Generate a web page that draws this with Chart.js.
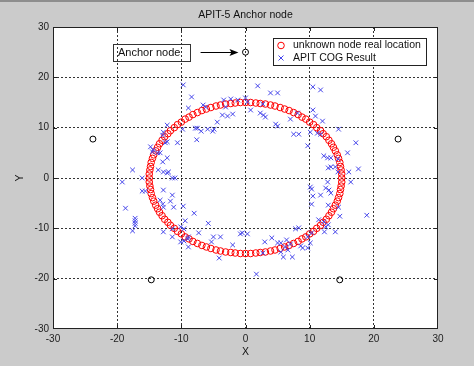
<!DOCTYPE html>
<html>
<head>
<meta charset="utf-8">
<script src="https://cdn.jsdelivr.net/npm/chart.js@4.4.1/dist/chart.umd.min.js"></script>
<style>
  html, body { margin: 0; padding: 0; background: #cbcbcb; }
  #wrap { width: 474px; height: 366px; }
</style>
</head>
<body>
<div id="wrap"><canvas id="apit" width="474" height="366"></canvas></div>
<script>
'use strict';

// unknown node real locations (red circles)
var realX = [15.0,15.0,14.9,14.8,14.7,14.5,14.3,14.0,13.7,13.4,13.0,12.6,12.1,11.7,11.1,10.6,10.0,9.4,8.8,8.2,7.5,6.8,6.1,5.4,4.6,3.9,3.1,2.3,1.6,0.8,
	0.0,-0.8,-1.6,-2.3,-3.1,-3.9,-4.6,-5.4,-6.1,-6.8,-7.5,-8.2,-8.8,-9.4,-10.0,-10.6,-11.1,-11.7,-12.1,-12.6,-13.0,-13.4,-13.7,-14.0,-14.3,-14.5,-14.7,-14.8,-14.9,-15.0,
	-15.0,-15.0,-14.9,-14.8,-14.7,-14.5,-14.3,-14.0,-13.7,-13.4,-13.0,-12.6,-12.1,-11.7,-11.1,-10.6,-10.0,-9.4,-8.8,-8.2,-7.5,-6.8,-6.1,-5.4,-4.6,-3.9,-3.1,-2.3,-1.6,-0.8,
	0.0,0.8,1.6,2.3,3.1,3.9,4.6,5.4,6.1,6.8,7.5,8.2,8.8,9.4,10.0,10.6,11.1,11.7,12.1,12.6,13.0,13.4,13.7,14.0,14.3,14.5,14.7,14.8,14.9,15.0];
var realY = [0.0,0.8,1.6,2.3,3.1,3.9,4.6,5.4,6.1,6.8,7.5,8.2,8.8,9.4,10.0,10.6,11.1,11.7,12.1,12.6,13.0,13.4,13.7,14.0,14.3,14.5,14.7,14.8,14.9,15.0,
	15.0,15.0,14.9,14.8,14.7,14.5,14.3,14.0,13.7,13.4,13.0,12.6,12.1,11.7,11.1,10.6,10.0,9.4,8.8,8.2,7.5,6.8,6.1,5.4,4.6,3.9,3.1,2.3,1.6,0.8,
	0.0,-0.8,-1.6,-2.3,-3.1,-3.9,-4.6,-5.4,-6.1,-6.8,-7.5,-8.2,-8.8,-9.4,-10.0,-10.6,-11.1,-11.7,-12.1,-12.6,-13.0,-13.4,-13.7,-14.0,-14.3,-14.5,-14.7,-14.8,-14.9,-15.0,
	-15.0,-15.0,-14.9,-14.8,-14.7,-14.5,-14.3,-14.0,-13.7,-13.4,-13.0,-12.6,-12.1,-11.7,-11.1,-10.6,-10.0,-9.4,-8.8,-8.2,-7.5,-6.8,-6.1,-5.4,-4.6,-3.9,-3.1,-2.3,-1.6,-0.8];

// APIT COG estimates (blue crosses)
var cogX = [-9.7,-8.4,-4.4,-3.6,-2.8,-2.0,-7.8,-7.5,-6.9,-5.9,-5.1,-4.9,-7.6,-9.8,-10.6,-12.2,-12.8,-12.9,-12.2,-12.5,
	-14.8,-14.4,-14.5,-13.7,-13.3,-12.9,-12.2,-17.6,-13.6,-12.8,-12.0,-12.2,-11.4,-11.0,-16.1,-19.2,
	-16.1,-15.6,-18.7,-13.3,-12.9,-11.4,-11.7,-11.2,-12.8,-12.8,-17.2,-17.2,-17.2,-17.2,-17.6,-12.8,-11.4,-11.4,
	-9.7,-8.0,-9.4,-5.8,-10.1,-9.6,-7.3,-10.1,-9.6,-8.9,-9.0,-8.9,-5.0,-3.9,-5.3,-2.0,-0.8,-4.1,
	1.9,3.9,5.0,10.5,11.7,0.0,0.8,2.3,2.8,3.1,4.7,5.0,7.0,8.1,7.5,8.3,10.5,10.9,12.0,10.1,11.2,11.7,14.5,9.7,17.2,
	12.2,12.8,13.3,14.4,15.9,13.3,12.9,14.4,17.6,16.4,12.8,10.1,10.3,12.5,13.0,13.3,10.5,11.7,14.0,16.1,
	10.3,12.9,14.7,18.9,11.4,12.2,12.9,12.5,12.3,14.0,8.3,7.8,10.3,9.7,-0.5,0.3,4.1,3.0,5.0,5.5,6.4,6.2,7.0,
	8.6,8.9,10.1,9.7,2.7,5.9,7.3,6.6,5.5,1.7,14.5,
	-8.9,-6.6,-3.4,-2.3,-1.2,-6.2,-3.1,0.3,2.7];
var cogY = [18.5,16.1,11.1,12.5,12.3,12.7,9.9,9.9,9.3,9.7,9.3,9.7,7.6,9.7,7.0,10.5,9.1,8.5,7.2,7.0,
	6.2,5.6,5.2,5.0,5.0,3.2,4.0,1.6,1.6,1.2,1.2,1.0,0.0,0.0,0.0,-0.8,
	-2.6,-2.6,-6.0,-4.4,-5.2,-3.4,-4.6,-5.8,-5.8,-2.4,-8.0,-8.5,-9.0,-9.5,-10.5,-10.7,-10.1,-11.7,
	-5.6,-7.0,-8.5,-9.0,-9.7,-10.1,-10.9,-12.7,-12.5,-11.7,-12.1,-13.7,-11.7,-11.7,-12.7,-13.3,-11.1,-15.9,
	18.3,16.9,16.9,18.1,17.5,15.9,13.5,12.9,12.5,12.1,10.7,10.3,11.7,12.9,8.7,8.7,13.5,12.3,11.3,9.1,8.9,8.7,9.7,6.4,7.0,
	4.4,4.0,4.0,3.8,5.0,2.2,2.0,1.2,1.8,-0.8,-0.8,-1.8,-2.2,-2.0,-2.4,-3.0,-3.6,-3.4,2.2,1.2,
	-5.2,-5.4,-7.6,-7.4,-8.3,-8.7,-9.3,-9.7,-10.7,-10.7,-9.9,-10.1,-10.9,-11.7,-10.9,-11.1,-11.9,-12.7,-12.9,-12.9,-12.3,-13.7,-13.1,
	-13.5,-13.9,-12.9,-13.9,-14.9,-15.7,-15.7,-14.3,-14.7,-19.1,-5.8,
	13.9,14.5,15.5,15.7,15.5,14.1,14.1,15.1,14.7];

// anchor nodes (black circles)
var anchorX = [0, 23.78, 14.69, -14.69, -23.78];
var anchorY = [25, 7.73, -20.23, -20.23, 7.73];

var axisMin = -30, axisMax = 30, tickStep = 10;
var titleText = 'APIT-5 Anchor node';
var legendLabels = ['unknown node real location', 'APIT COG Result'];

var FONT = "'Liberation Sans', Arial, Helvetica, sans-serif";

var toPoints = function(xs, ys) {
	return xs.map(function(x, i) { return {x: x, y: ys[i]}; });
};

var drawCross = function(ctx, x, y, r) {
	ctx.beginPath();
	ctx.moveTo(x - r, y - r); ctx.lineTo(x + r, y + r);
	ctx.moveTo(x - r, y + r); ctx.lineTo(x + r, y - r);
	ctx.stroke();
};

var matlabLook = {
	id: 'matlabLook',
	beforeDraw: function(chart) {
		var ctx = chart.ctx, a = chart.chartArea;
		ctx.save();
		ctx.fillStyle = '#cbcbcb';
		ctx.fillRect(0, 0, chart.width, chart.height);
		ctx.fillStyle = '#8e8e8e';
		ctx.fillRect(0, 0, chart.width, 2);
		ctx.fillStyle = '#ffffff';
		ctx.fillRect(a.left, a.top, a.right - a.left, a.bottom - a.top);
		ctx.restore();
	},
	afterDraw: function(chart) {
		var ctx = chart.ctx, a = chart.chartArea,
			sx = chart.scales.x, sy = chart.scales.y;
		ctx.save();

		// frame and inward tick marks
		ctx.strokeStyle = '#222';
		ctx.lineWidth = 1;
		ctx.strokeRect(a.left + 0.5, a.top + 0.5, a.right - a.left - 1, a.bottom - a.top - 1);
		ctx.beginPath();
		for (var v = axisMin + tickStep; v < axisMax; v += tickStep) {
			var px = Math.round(sx.getPixelForValue(v)) + 0.5,
				py = Math.round(sy.getPixelForValue(v)) + 0.5;
			ctx.moveTo(px, a.bottom); ctx.lineTo(px, a.bottom - 4);
			ctx.moveTo(px, a.top); ctx.lineTo(px, a.top + 4);
			ctx.moveTo(a.left, py); ctx.lineTo(a.left + 4, py);
			ctx.moveTo(a.right, py); ctx.lineTo(a.right - 4, py);
		}
		ctx.stroke();

		// title and axis labels
		ctx.fillStyle = '#111';
		ctx.textAlign = 'center';
		ctx.textBaseline = 'middle';
		ctx.font = '10.5px ' + FONT;
		ctx.fillText(titleText, (a.left + a.right) / 2, 15);
		ctx.fillText('X', (a.left + a.right) / 2, 352);
		ctx.save();
		ctx.translate(20, (a.top + a.bottom) / 2);
		ctx.rotate(-Math.PI / 2);
		ctx.fillText('Y', 0, 0);
		ctx.restore();

		// "Anchor node" annotation with arrow
		var bx1 = 113, bx2 = 190, by1 = 44, by2 = 61;
		ctx.strokeStyle = '#333';
		ctx.strokeRect(bx1 + 0.5, by1 + 0.5, bx2 - bx1, by2 - by1);
		ctx.textAlign = 'left';
		ctx.font = '11px ' + FONT;
		ctx.fillStyle = '#111';
		ctx.fillText('Anchor node', 118, 53);
		var tipX = sx.getPixelForValue(-1.1), ay = Math.round(sy.getPixelForValue(25)) + 0.5;
		ctx.strokeStyle = '#000';
		ctx.beginPath();
		ctx.moveTo(sx.getPixelForValue(-7.0), ay);
		ctx.lineTo(tipX - 6, ay);
		ctx.stroke();
		ctx.fillStyle = '#000';
		ctx.beginPath();
		ctx.moveTo(tipX, ay);
		ctx.lineTo(tipX - 9, ay - 3.5);
		ctx.lineTo(tipX - 7, ay);
		ctx.lineTo(tipX - 9, ay + 3.5);
		ctx.closePath();
		ctx.fill();

		// legend
		var lx1 = 273, lx2 = 426, ly1 = 38, ly2 = 65;
		ctx.fillStyle = '#fff';
		ctx.fillRect(lx1, ly1, lx2 - lx1, ly2 - ly1);
		ctx.strokeStyle = '#222';
		ctx.strokeRect(lx1 + 0.5, ly1 + 0.5, lx2 - lx1, ly2 - ly1);
		ctx.strokeStyle = '#ff0000';
		ctx.beginPath();
		ctx.arc(281, 45.5, 3.3, 0, Math.PI * 2);
		ctx.stroke();
		ctx.strokeStyle = 'rgb(70,70,235)';
		drawCross(ctx, 281, 58, 2.5);
		ctx.fillStyle = '#111';
		ctx.font = '10.5px ' + FONT;
		ctx.fillText(legendLabels[0], 293, 45.5);
		ctx.fillText(legendLabels[1], 293, 58);

		ctx.restore();
	}
};

var gridColor = function(c) {
	var v = c.tick ? c.tick.value : 0;
	return (v <= axisMin || v >= axisMax) ? 'rgba(0,0,0,0)' : '#333';
};

var scaleOpts = function(pos, fit) {
	return {
		type: 'linear',
		position: pos,
		min: axisMin,
		max: axisMax,
		ticks: {
			stepSize: tickStep,
			autoSkip: false,
			maxRotation: 0,
			padding: 4,
			color: '#222',
			font: {family: FONT, size: 10}
		},
		grid: {color: gridColor, drawTicks: false, lineWidth: 1},
		border: {display: false, dash: [2, 2]},
		afterFit: fit
	};
};

new Chart(document.getElementById('apit').getContext('2d'), {
	type: 'scatter',
	data: {
		datasets: [{
			label: legendLabels[1],
			data: toPoints(cogX, cogY),
			pointStyle: 'crossRot',
			pointRadius: 3.3,
			borderColor: 'rgb(70,70,235)',
			borderWidth: 1
		}, {
			label: 'Anchor node',
			data: toPoints(anchorX, anchorY),
			pointStyle: 'circle',
			pointRadius: 3,
			borderColor: '#000',
			backgroundColor: 'rgba(0,0,0,0)',
			borderWidth: 1
		}, {
			label: legendLabels[0],
			data: toPoints(realX, realY),
			pointStyle: 'circle',
			pointRadius: 3.3,
			borderColor: '#ff0000',
			backgroundColor: 'rgba(0,0,0,0)',
			borderWidth: 1
		}]
	},
	options: {
		responsive: false,
		animation: false,
		devicePixelRatio: 1,
		layout: {padding: {top: 27, right: 36, left: 0, bottom: 0}},
		plugins: {legend: {display: false}, tooltip: {enabled: false}, title: {display: false}},
		scales: {
			x: scaleOpts('bottom', function(s) { s.height = 37; }),
			y: scaleOpts('left', function(s) { s.width = 53; })
		}
	},
	plugins: [matlabLook]
});
</script>
</body>
</html>
